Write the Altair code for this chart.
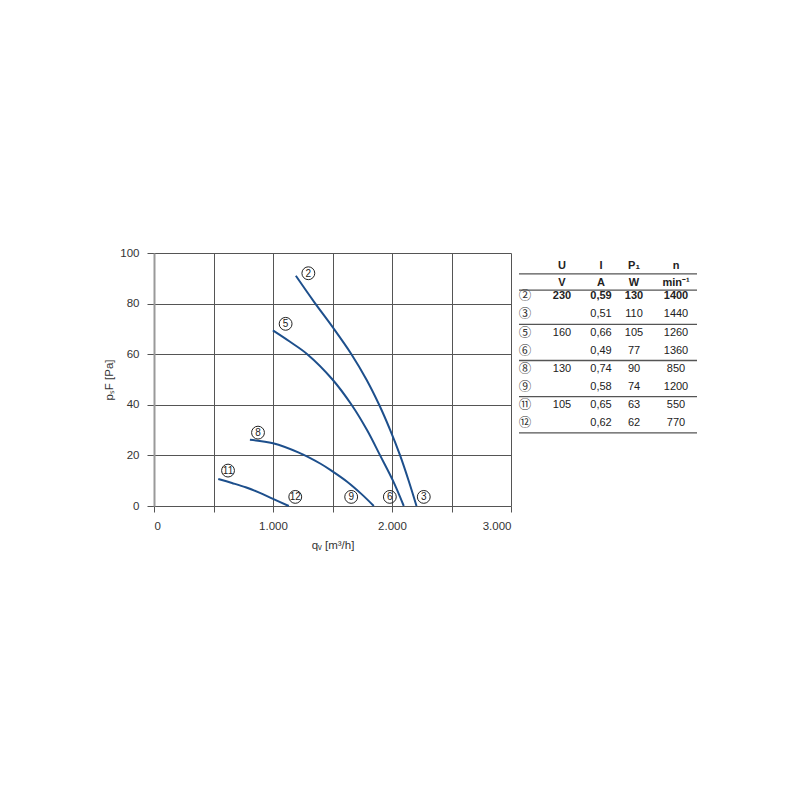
import altair as alt
import pandas as pd

# ---- characteristic curves (q_V in m3/h, p in Pa) ----
c23_q = [1192, 1348, 1500, 1655, 1785, 1892, 1985, 2068, 2140, 2206]
c23_p = [91, 80.5, 70.8, 60.3, 50, 40, 30, 20, 10, 0]
c56_q = [999, 1140, 1288, 1500, 1660, 1790, 1900, 2008, 2099]
c56_p = [69.4, 65, 60, 50, 40, 30, 20, 10, 0]
c89_q = [806, 1000, 1217, 1400, 1500, 1623, 1749, 1847]
c89_p = [26.2, 24.8, 21.1, 16.7, 13.7, 9.6, 4.5, 0]
c1112_q = [540, 655, 770, 885, 1000, 1133]
c1112_p = [10.7, 9.1, 7.4, 5.3, 2.8, 0]

# ---- curve labels ----
lab_num = ["2", "5", "8", "11", "12", "9", "6", "3"]
lab_q = [1297, 1106, 874, 622, 1187, 1657, 1982, 2267]
lab_p = [92, 72, 29, 14, 3.6, 3.6, 3.6, 3.6]

# ---- table ----
tab_sym = ["②", "③", "⑤", "⑥", "⑧", "⑨", "⑪", "⑫"]
tab_U = ["230", "", "160", "", "130", "", "105", ""]
tab_I = ["0,59", "0,51", "0,66", "0,49", "0,74", "0,58", "0,65", "0,62"]
tab_P = ["130", "110", "105", "77", "90", "74", "63", "62"]
tab_n = ["1400", "1440", "1260", "1360", "850", "1200", "550", "770"]
head1 = ["U", "I", "P₁", "n"]
head2 = ["V", "A", "W", "min⁻¹"]

FONT = "Liberation Sans"
BLUE = "#1d4f8c"
GRID = "#555555"

rows = []
for name, qs, ps in [("23", c23_q, c23_p), ("56", c56_q, c56_p),
                     ("89", c89_q, c89_p), ("1112", c1112_q, c1112_p)]:
    for i, (q, p) in enumerate(zip(qs, ps)):
        rows.append({"curve": name, "i": i, "q": q, "p": p})
curves = pd.DataFrame(rows)
labels = pd.DataFrame({"num": lab_num, "q": lab_q, "p": lab_p})

xsc = alt.Scale(domain=[0, 3000], nice=False, zero=False)
ysc = alt.Scale(domain=[0, 100], nice=False, zero=False)

xaxis = alt.Axis(
    values=list(range(0, 3001, 500)),
    labelExpr="datum.value % 1000 == 0 ? replace(format(datum.value, ','), ',', '.') : ''",
    grid=True, gridColor=GRID, gridWidth=1, domain=False,
    tickColor=GRID, tickSize=6, labelPadding=8, labelFont=FONT, labelFontSize=11.5,
    labelColor="#333", title="qᵥ [m³/h]", titleFont=FONT, titleFontSize=11.5,
    titleFontWeight="normal", titleColor="#333", titlePadding=8,
)
yaxis = alt.Axis(
    values=list(range(0, 101, 10)),
    labelExpr="datum.value % 20 == 0 ? datum.label : ''",
    grid=True, gridColor=GRID, gridWidth=1, domain=True, domainColor="#999",
    domainWidth=2, tickColor=GRID, tickSize=7, labelPadding=8, labelFont=FONT,
    labelFontSize=11.5, labelColor="#333", title="pₛF [Pa]", titleFont=FONT,
    titleFontSize=11.5, titleFontWeight="normal", titleColor="#333", titlePadding=5,
)

lines = alt.Chart(curves).mark_line(color=BLUE, strokeWidth=2, interpolate="catmull-rom").encode(
    x=alt.X("q:Q", scale=xsc, axis=xaxis),
    y=alt.Y("p:Q", scale=ysc, axis=yaxis),
    detail="curve:N",
    order="i:Q",
)
circ = alt.Chart(labels).mark_point(shape="circle", size=165, filled=False,
                                    stroke="#222", strokeWidth=1, opacity=1).encode(
    x=alt.X("q:Q", scale=xsc), y=alt.Y("p:Q", scale=ysc))
nums = alt.Chart(labels).mark_text(font=FONT, fontSize=10, color="#222", dy=0.5).encode(
    x=alt.X("q:Q", scale=xsc), y=alt.Y("p:Q", scale=ysc), text="num:N")

plot = alt.layer(lines, circ, nums).properties(width=357, height=253)

# ---- table chart ----
col_x = [5, 43, 82, 115, 157]   # column centres (layout)
tw = 178
trows = []
for k in range(8):
    vals = [tab_U[k], tab_I[k], tab_P[k], tab_n[k]]
    for j, v in enumerate(vals):
        if v:
            trows.append({"x": col_x[j + 1], "y": k, "t": v, "bold": k == 0})
for j in range(4):
    trows.append({"x": col_x[j + 1], "y": -1.68, "t": head1[j], "bold": True})
    trows.append({"x": col_x[j + 1], "y": -0.74, "t": head2[j], "bold": True})
tdf = pd.DataFrame(trows)
sym = pd.DataFrame({"x": [col_x[0] + 1] * 8, "y": list(range(8)), "t": tab_sym})
rule_y = [-1.25, -0.35, 1.55, 3.55, 5.55, 7.55]
rdf = pd.DataFrame({"x": [0] * len(rule_y), "x2": [tw] * len(rule_y), "y": rule_y})

txs = alt.Scale(domain=[0, tw], nice=False, zero=False)
tys = alt.Scale(domain=[-2.4, 11.6], nice=False, zero=False, reverse=True)

t_norm = alt.Chart(tdf[~tdf["bold"]]).mark_text(font=FONT, fontSize=11, color="#222").encode(
    x=alt.X("x:Q", scale=txs, axis=None), y=alt.Y("y:Q", scale=tys, axis=None), text="t:N")
t_bold = alt.Chart(tdf[tdf["bold"]]).mark_text(font=FONT, fontSize=11, fontWeight="bold",
                                                 color="#222").encode(
    x=alt.X("x:Q", scale=txs, axis=None), y=alt.Y("y:Q", scale=tys, axis=None), text="t:N")
t_sym = alt.Chart(sym).mark_text(font="Noto Sans CJK JP", fontSize=12.5, color="#333").encode(
    x=alt.X("x:Q", scale=txs, axis=None), y=alt.Y("y:Q", scale=tys, axis=None), text="t:N")
t_rule = alt.Chart(rdf).mark_rule(color="#555", strokeWidth=1.3).encode(
    x=alt.X("x:Q", scale=txs, axis=None), x2="x2:Q", y=alt.Y("y:Q", scale=tys, axis=None))

table = alt.layer(t_rule, t_norm, t_bold, t_sym).properties(width=tw, height=253)

chart = alt.hconcat(plot, table, spacing=8, bounds="flush").properties(
    padding={"left": 95, "top": 239, "right": 5, "bottom": 5}
).configure_view(strokeWidth=0)

chart.save("out.html", embed_options={"renderer": "svg", "actions": False})
